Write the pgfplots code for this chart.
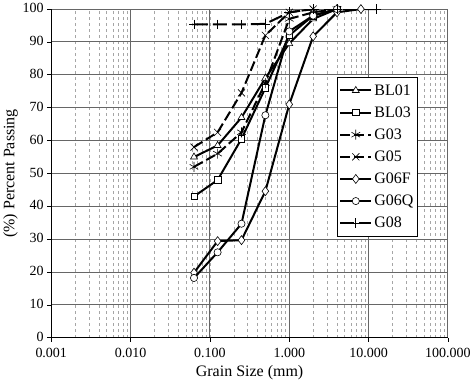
\documentclass[border=0pt]{standalone}
\usepackage{pgfplots}
\pgfplotsset{compat=1.18}
\usepackage{fontspec}
\setmainfont{Liberation Serif}
\begin{document}
\begin{tikzpicture}
\begin{axis}[
  scale only axis,
  width=397pt, height=329pt,
  xmode=log,
  xmin=0.001, xmax=100,
  ymin=0, ymax=100,
  xtick={0.001,0.01,0.1,1,10,100},
  xticklabels={0.001,0.010,0.100,1.000,10.000,100.000},
  ytick={0,10,...,100},
  axis x line=bottom, axis y line=left,
  axis line style={black, line width=0.8pt, -},
  tick style={black, line width=0.8pt},
  tick align=outside,
  minor tick length=0pt,
  major tick length=4pt,
  grid=both,
  major grid style={gray!80!black, line width=0.9pt, solid},
  minor x grid style={gray!70, line width=0.6pt, dashed},
  ymajorgrids, xmajorgrids, xminorgrids,
  /pgf/number format/assume math mode=true,
  ticklabel style={font=\fontsize{14}{16}\selectfont},
  xticklabel style={yshift=-3pt},
  yticklabel style={yshift=1pt},
  xlabel={Grain Size (mm)},
  ylabel={(\%) Percent Passing},
  label style={font=\fontsize{16}{18}\selectfont},
  xlabel style={yshift=-1pt},
  ylabel style={yshift=-2pt},
  legend style={at={(0.720,0.793)}, anchor=north west, draw=black, line width=0.6pt,
    font=\fontsize{16}{18}\selectfont, row sep=6pt, inner xsep=2pt, inner ysep=5pt,
    cells={anchor=west}},
  legend image code/.code={
    \draw[#1, mark repeat=2, mark phase=2] plot coordinates {(0cm,0cm) (0.55cm,0cm) (1.1cm,0cm)};
  },
  every axis plot/.append style={line width=2pt, mark size=4pt, mark options={solid, fill=white, line width=0.6pt}},
]
\addplot[black, mark=triangle*] coordinates {(0.063,55) (0.125,58.5) (0.25,67) (0.5,79) (1,89.5) (2,97) (4,100)};
\addlegendentry{BL01}
\addplot[black, mark=square*, mark size=3.2pt] coordinates {(0.063,43) (0.125,48) (0.25,60.5) (0.5,76) (1,92) (2,98) (4,100)};
\addlegendentry{BL03}
\addplot[black, dash pattern=on 10pt off 4pt, mark=asterisk, mark size=5pt] coordinates {(0.063,52) (0.125,56) (0.25,62.5) (0.5,77.5) (1,97) (2,99) (4,100)};
\addlegendentry{G03}
\addplot[black, dash pattern=on 10pt off 4pt, mark=x, mark size=5pt] coordinates {(0.063,58) (0.125,62.5) (0.25,74.5) (0.5,92) (1,99) (2,100)};
\addlegendentry{G05}
\addplot[black, mark=diamond*, mark size=4.5pt] coordinates {(0.063,19.8) (0.125,29.4) (0.25,29.7) (0.5,44.6) (1,71) (2,91.7) (4,99) (8,100)};
\addlegendentry{G06F}
\addplot[black, mark=*, mark size=3.6pt] coordinates {(0.063,18.2) (0.125,26) (0.25,34.7) (0.5,67.7) (1,93.2) (2,98) (4,100)};
\addlegendentry{G06Q}
\addplot[black, dash pattern=on 14pt off 5pt, mark=+, mark size=5pt] coordinates {(0.063,95.3) (0.125,95.3) (0.25,95.3) (0.5,95.5) (1,99) (2,100) (4,100) (12.5,100)};
\addlegendentry{G08}
\end{axis}
\end{tikzpicture}
\end{document}
